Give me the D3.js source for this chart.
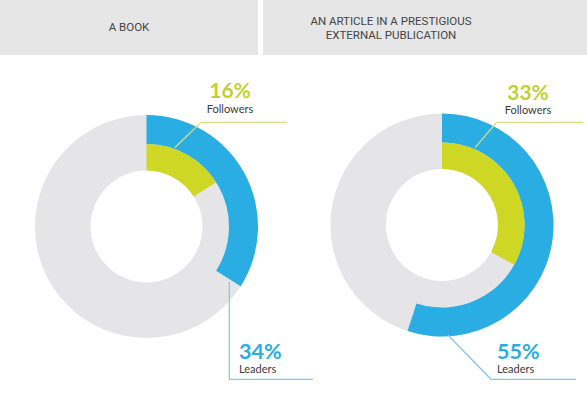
<!DOCTYPE html>
<html><head><meta charset="utf-8">
<script src="https://cdn.jsdelivr.net/npm/d3@7"></script>
<style>
html,body{margin:0;padding:0;background:#fff;}
svg{display:block;font-family:"Lato","Open Sans",sans-serif;}
</style></head>
<body>
<svg id="c" width="587" height="404"></svg>
<script>
const categories = ["A BOOK", "AN ARTICLE IN A PRESTIGIOUS EXTERNAL PUBLICATION"];
const titleLines = [["A BOOK"], ["AN ARTICLE IN A PRESTIGIOUS", "EXTERNAL PUBLICATION"]];
const seriesNames = ["Leaders", "Followers"];
const leaders = [34, 55];
const followers = [16, 33];

const svg = d3.select("#c");
const angle = d3.scaleLinear().domain([0, 100]).range([0, 2 * Math.PI]);

const panels = [
  {x0: 0, x1: 258, cx: 146.5, cy: 226.5, tx: 129,
   fLine: [[175, 147.5], [201, 122.3], [287, 122.3]], fText: [230, 98, 112.7],
   lLine: [[229.3, 282], [229.3, 379.3], [313, 379.3]], lText: [239, 358.5, 373.2]},
  {x0: 263, x1: 587, cx: 442, cy: 225, tx: 391,
   fLine: [[475, 147.7], [496.7, 122.3], [583, 122.3]], fText: [528, 100, 114],
   lLine: [[448, 335], [491, 379.3], [576, 379.3]], lText: [497, 358.5, 373.2]}
];

const rIn = 56, rMid = 82.5, rOut = 111.5;
const C = {gray: "#e5e5e8", blue: "#29ade3", green: "#cdd724", greenText: "#c3d130",
  greenLine: "#d8de86", blueLine: "#84c9e8", header: "#e6e6e6", text: "#3a3a3a"};

const line = d3.line();

categories.forEach((cat, i) => {
  const p = panels[i];
  svg.append("rect").attr("x", p.x0).attr("y", 0).attr("width", p.x1 - p.x0).attr("height", 55).attr("fill", C.header);
  const lines = titleLines[i];
  const baseY = lines.length === 1 ? 30.5 : 25;
  lines.forEach((t, j) => {
    svg.append("text").attr("x", p.tx).attr("y", baseY + j * 14.2).attr("text-anchor", "middle")
      .attr("font-family", "Roboto, sans-serif").attr("font-size", 11.5).attr("fill", "#444").text(t);
  });

  const g = svg.append("g").attr("transform", `translate(${p.cx},${p.cy})`);
  g.append("path").attr("d", d3.arc().innerRadius(rIn).outerRadius(rOut).startAngle(0).endAngle(2 * Math.PI)()).attr("fill", C.gray);
  g.append("path").attr("d", d3.arc().innerRadius(rMid).outerRadius(rOut).startAngle(0).endAngle(angle(leaders[i]))()).attr("fill", C.blue);
  g.append("path").attr("d", d3.arc().innerRadius(rIn).outerRadius(rMid).startAngle(0).endAngle(angle(followers[i]))()).attr("fill", C.green);

  svg.append("path").attr("d", line(p.fLine)).attr("fill", "none").attr("stroke", C.greenLine).attr("stroke-width", 1.3);
  svg.append("path").attr("d", line(p.lLine)).attr("fill", "none").attr("stroke", C.blueLine).attr("stroke-width", 1.3);

  svg.append("text").attr("x", p.fText[0]).attr("y", p.fText[1]).attr("text-anchor", "middle")
    .attr("font-size", 21).attr("font-weight", "bold").attr("fill", C.greenText).text(followers[i] + "%");
  svg.append("text").attr("x", p.fText[0]).attr("y", p.fText[2]).attr("text-anchor", "middle")
    .attr("font-size", 11).attr("fill", C.text).text(seriesNames[1]);
  svg.append("text").attr("x", p.lText[0]).attr("y", p.lText[1])
    .attr("font-size", 21.5).attr("font-weight", "bold").attr("fill", C.blue).text(leaders[i] + "%");
  svg.append("text").attr("x", p.lText[0]).attr("y", p.lText[2])
    .attr("font-size", 11).attr("fill", C.text).text(seriesNames[0]);
});
</script>
</body></html>
